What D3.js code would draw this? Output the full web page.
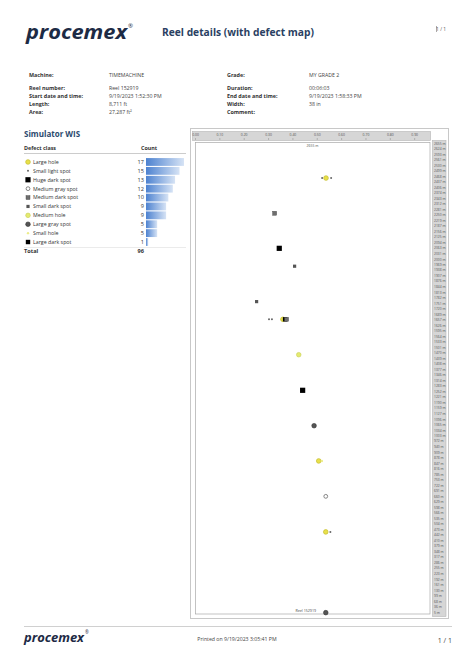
<!DOCTYPE html>
<html><head><meta charset="utf-8">
<script src="https://cdn.jsdelivr.net/npm/d3@7/dist/d3.min.js"></script>
<style>
html,body{margin:0;padding:0;background:#fff;}
svg{display:block;font-family:"Open Sans","Noto Sans",sans-serif;}
</style></head>
<body>
<svg id="c" width="474" height="668"></svg>
<script>
// ---------- data ----------
const infoLeftLabels = ["Machine:", "Reel number:", "Start date and time:", "Length:", "Area:"];
const infoLeftValues = ["TIMEMACHINE", "Reel 152919", "9/19/2023 1:52:30 PM", "8,711 ft", "27,287 ft\u00b2"];
const infoRightLabels = ["Grade:", "Duration:", "End date and time:", "Width:", "Comment:"];
const infoRightValues = ["MY GRADE 2", "00:06:03", "9/19/2023 1:58:33 PM", "38 in", ""];

const defectClasses = ["Large hole","Small light spot","Huge dark spot","Medium gray spot","Medium dark spot","Small dark spot","Medium hole","Large gray spot","Small hole","Large dark spot"];
const defectCounts = [17,15,13,12,10,9,9,5,5,1];
const totalCount = 96;

const cdTicks = [0.00,0.10,0.20,0.30,0.40,0.50,0.60,0.70,0.80,0.90];
const mdTicks = [2655,2624,2593,2561,2530,2499,2468,2437,2406,2374,2343,2312,2281,2250,2219,2187,2156,2125,2094,2063,2031,2000,1969,1938,1907,1876,1844,1813,1782,1751,1720,1689,1657,1626,1595,1564,1533,1501,1470,1439,1408,1377,1346,1314,1283,1252,1221,1190,1159,1127,1096,1065,1034,1003,972,940,909,878,847,816,785,753,722,691,660,629,598,566,535,504,473,442,410,379,348,317,286,255,223,192,161,130,99,68,36,5];

// defects: cross direction position (m), machine direction position (m), class
const defectX = [0.522,0.538,0.559, 0.327, 0.346, 0.409, 0.253, 0.304,0.316,0.361,0.370,0.376, 0.426, 0.442, 0.489, 0.508,0.521, 0.537, 0.537,0.556, 0.537];
const defectY = [2457,2457,2457, 2258, 2060, 1959, 1759, 1659,1659,1659,1659,1659, 1459, 1258, 1058, 859,859, 659, 458,458, 2];
const defectC = ["Small light spot","Large hole","Small light spot","Medium dark spot","Huge dark spot","Small dark spot","Small dark spot","Small light spot","Small light spot","Large hole","Large dark spot","Medium dark spot","Medium hole","Huge dark spot","Large gray spot","Large hole","Small hole","Medium gray spot","Large hole","Small light spot","Large gray spot"];

const reelWidthM = 0.965, reelLengthM = 2655;

// ---------- drawing ----------
const svg = d3.select("#c");
const navy = "#1d2b45", titleC = "#2a3f62", txt = "#333";

// header
svg.append("text").attr("x",26).attr("y",39).attr("font-size",20).attr("font-weight",700)
  .attr("font-style","italic").attr("fill",navy).attr("textLength",101).attr("lengthAdjust","spacingAndGlyphs").text("procemex");
svg.append("text").attr("x",128).attr("y",28).attr("font-size",6).attr("fill",navy).text("\u00ae");
svg.append("text").attr("x",162).attr("y",36).attr("font-size",10.5).attr("font-weight",700)
  .attr("fill",titleC).attr("textLength",152).attr("lengthAdjust","spacingAndGlyphs").text("Reel details (with defect map)");
svg.append("text").attr("x",436).attr("y",31).attr("font-size",5).attr("fill","#555").text("1 / 1");
svg.append("line").attr("x1",436.5).attr("x2",436.5).attr("y1",26).attr("y2",32).attr("stroke","#555").attr("stroke-width",0.5);

// info table
const infoY = [77,90,98,106,114];
function infoCol(labels, values, xl, xv){
  labels.forEach((l,i)=>{
    svg.append("text").attr("x",xl).attr("y",infoY[i]).attr("font-size",5.4).attr("font-weight",700).attr("fill",txt).text(l);
    svg.append("text").attr("x",xv).attr("y",infoY[i]).attr("font-size",5.2).attr("fill","#444").text(values[i]);
  });
}
infoCol(infoLeftLabels, infoLeftValues, 29, 109);
infoCol(infoRightLabels, infoRightValues, 227, 309);

// defect summary table
svg.append("text").attr("x",24).attr("y",137).attr("font-size",8).attr("font-weight",700).attr("fill","#2c4a6e").text("Simulator WIS");
svg.append("text").attr("x",24).attr("y",149.5).attr("font-size",5.4).attr("font-weight",700).attr("fill",txt).text("Defect class");
svg.append("text").attr("x",141).attr("y",149.5).attr("font-size",5.4).attr("font-weight",700).attr("fill",txt).text("Count");
svg.append("line").attr("x1",24).attr("x2",186).attr("y1",153.5).attr("y2",153.5).attr("stroke","#ccc").attr("stroke-width",1);

const rowY = d3.scaleBand().domain(defectClasses).range([157,247]).padding(0.12);
const barX = d3.scaleLinear().domain([0,17]).range([0,38]);

const defs = svg.append("defs");
const grad = defs.append("linearGradient").attr("id","barg").attr("x1","0").attr("x2","1").attr("y1","0").attr("y2","0");
grad.append("stop").attr("offset","0").attr("stop-color","#4d82d0");
grad.append("stop").attr("offset","1").attr("stop-color","#d6e3f5");

// marker shapes per class
function drawMarker(g, cls, x, y){
  switch(cls){
    case "Large hole":
      g.append("circle").attr("cx",x).attr("cy",y).attr("r",2.3).attr("fill","#e8e04a").attr("stroke","#c9c236").attr("stroke-width",0.8); break;
    case "Small light spot":
      g.append("circle").attr("cx",x).attr("cy",y).attr("r",1).attr("fill","#666"); break;
    case "Huge dark spot":
      g.append("rect").attr("x",x-2.6).attr("y",y-2.6).attr("width",5.2).attr("height",5.2).attr("fill","#000"); break;
    case "Medium gray spot":
      g.append("circle").attr("cx",x).attr("cy",y).attr("r",1.9).attr("fill","#fff").attr("stroke","#777").attr("stroke-width",0.9); break;
    case "Medium dark spot":
      g.append("rect").attr("x",x-2).attr("y",y-2).attr("width",4).attr("height",4).attr("fill","#6e6e6e").attr("stroke","#444").attr("stroke-width",0.4); break;
    case "Small dark spot":
      g.append("rect").attr("x",x-1.6).attr("y",y-1.6).attr("width",3.2).attr("height",3.2).attr("fill","#555"); break;
    case "Medium hole":
      g.append("circle").attr("cx",x).attr("cy",y).attr("r",2.3).attr("fill","#e4ea70").attr("stroke","#c8cf55").attr("stroke-width",0.6); break;
    case "Large gray spot":
      g.append("circle").attr("cx",x).attr("cy",y).attr("r",2.3).attr("fill","#555").attr("stroke","#333").attr("stroke-width",0.6); break;
    case "Small hole":
      g.append("circle").attr("cx",x).attr("cy",y).attr("r",1.2).attr("fill","#ecec8a"); break;
    case "Large dark spot":
      g.append("rect").attr("x",x-2.2).attr("y",y-2.2).attr("width",4.4).attr("height",4.4).attr("fill","#000"); break;
  }
}

const rows = svg.append("g");
defectClasses.forEach((c,i)=>{
  const y = rowY(c), h = rowY.bandwidth(), cy = y + h/2;
  drawMarker(rows, c, 28, cy);
  rows.append("text").attr("x",33).attr("y",cy+1.9).attr("font-size",5.3).attr("fill",txt).text(c);
  rows.append("text").attr("x",144).attr("y",cy+1.9).attr("font-size",5.6).attr("text-anchor","end").attr("fill",txt).text(defectCounts[i]);
  rows.append("rect").attr("x",146).attr("y",y).attr("width",barX(defectCounts[i])).attr("height",h).attr("fill","url(#barg)");
});
svg.append("line").attr("x1",24).attr("x2",186).attr("y1",247.5).attr("y2",247.5).attr("stroke","#ddd").attr("stroke-width",0.6);
svg.append("text").attr("x",24).attr("y",253).attr("font-size",5.6).attr("font-weight",700).attr("fill",txt).text("Total");
svg.append("text").attr("x",144).attr("y",253).attr("font-size",5.6).attr("font-weight",700).attr("text-anchor","end").attr("fill",txt).text(totalCount);

// ---------- defect map ----------
svg.append("rect").attr("x",190.5).attr("y",128.5).attr("width",258).attr("height",490).attr("fill","#fff").attr("stroke","#c8c8c8").attr("stroke-width",1);
svg.append("rect").attr("x",192.5).attr("y",131.5).attr("width",238).attr("height",9).attr("fill","#d6d6d6").attr("stroke","#b5b5b5").attr("stroke-width",0.6);
svg.append("rect").attr("x",432.5).attr("y",140.5).attr("width",13.5).attr("height",476).attr("fill","#d6d6d6").attr("stroke","#b5b5b5").attr("stroke-width",0.6);

const xS = d3.scaleLinear().domain([0,reelWidthM]).range([195,430]);
const yS = d3.scaleLinear().domain([0,reelLengthM]).range([613,143]);

svg.append("rect").attr("x",195.5).attr("y",142.5).attr("width",234.5).attr("height",471.5).attr("fill","#fff").attr("stroke","#a8a8a8").attr("stroke-width",0.7);

const topAx = svg.append("g").attr("transform","translate(0,140)")
  .call(d3.axisTop(xS).tickValues(cdTicks).tickSize(2).tickFormat(d3.format(".2f")));
topAx.select(".domain").remove();
topAx.selectAll("line").attr("stroke","#777").attr("stroke-width",0.4);
topAx.selectAll("text").attr("font-size",3.4).attr("fill","#555").attr("y",-4.5)
  .attr("text-anchor","middle").attr("font-family","Open Sans, sans-serif");

const rightAx = svg.append("g").attr("transform","translate(433,0)")
  .call(d3.axisRight(yS).tickValues(mdTicks).tickSize(0).tickFormat(d=>d+" m"));
rightAx.select(".domain").remove();
rightAx.selectAll("text").attr("font-size",3.3).attr("fill","#555").attr("x",1).attr("font-family","Open Sans, sans-serif");

svg.append("text").attr("x",xS(reelWidthM/2)).attr("y",146.5).attr("font-size",3.4).attr("fill","#555").attr("text-anchor","middle").text(reelLengthM+" m");
svg.append("text").attr("x",xS(0.455)).attr("y",611.5).attr("font-size",3.6).attr("fill","#444").attr("text-anchor","middle").text("Reel 152919");

const marks = svg.append("g");
defectX.forEach((dx,i)=>drawMarker(marks, defectC[i], xS(dx), yS(defectY[i])));

// ---------- footer ----------
svg.append("line").attr("x1",24).attr("x2",452).attr("y1",626.5).attr("y2",626.5).attr("stroke","#d0d0d0").attr("stroke-width",1);
svg.append("text").attr("x",24).attr("y",642).attr("font-size",13).attr("font-weight",700).attr("font-style","italic")
  .attr("fill",navy).attr("textLength",60).attr("lengthAdjust","spacingAndGlyphs").text("procemex");
svg.append("text").attr("x",85).attr("y",634).attr("font-size",4.5).attr("fill",navy).text("\u00ae");
svg.append("text").attr("x",237).attr("y",641).attr("font-size",5.2).attr("fill","#444").attr("text-anchor","middle").text("Printed on 9/19/2023 3:05:41 PM");
svg.append("text").attr("x",452).attr("y",643).attr("font-size",7).attr("fill","#444").attr("text-anchor","end").text("1 / 1");
</script>
</body></html>
